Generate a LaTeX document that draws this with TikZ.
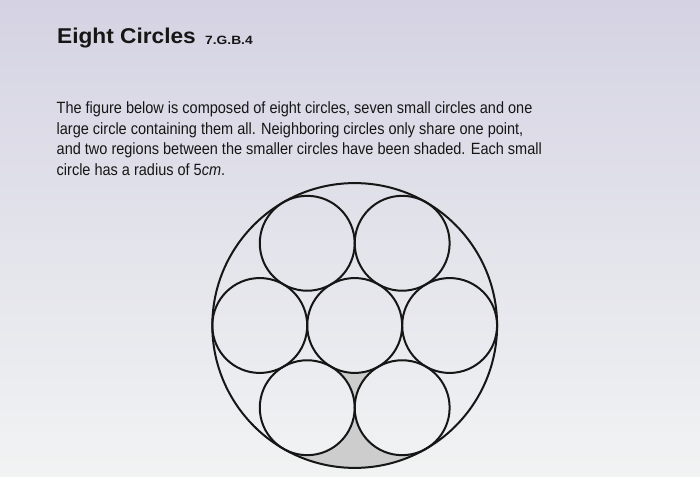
\documentclass[tikz,border=0pt]{standalone}
\usepackage{fontspec}
\usetikzlibrary{calc}
\setmainfont{Liberation Sans}
\newfontfamily\bodyfont[FakeStretch=0.89]{Liberation Sans}
\newfontfamily\titlefont[FakeStretch=1.06]{Liberation Sans}
\newfontfamily\codefont[FakeStretch=1.15]{Liberation Sans}
\definecolor{bgtop}{RGB}{213,211,227}
\definecolor{bgbot}{RGB}{241,243,243}
\definecolor{ink}{RGB}{22,22,22}
\definecolor{shadecol}{RGB}{205,205,205}
\begin{document}
\begin{tikzpicture}[x=1pt,y=1pt,
  smallc/.style={circle,draw=ink,line width=2pt,minimum size=94.9pt,inner sep=0pt},
  bigc/.style={circle,draw=ink,line width=2pt,minimum size=284.8pt,inner sep=0pt},
  textline/.style={anchor=base west,inner sep=0pt,text=ink,font=\bodyfont\fontsize{16.3}{20}\selectfont},
  shadedregion/.style={fill=shadecol,draw=none}]
\useasboundingbox (0,0) rectangle (700,476);
\shade[top color=bgtop,bottom color=bgbot] (0,0) rectangle (700,476);
\def\r{47.47}
\coordinate (O) at (354.7,150.5);
% shaded regions
\path[shadedregion] (O) ++(240:\r)
  arc[start angle=240,end angle=300,radius=\r]
  arc[start angle=120,end angle=180,radius=\r]
  arc[start angle=0,end angle=60,radius=\r] -- cycle;
\path[shadedregion] (O) ++(270:{1.7320508*\r})
  arc[start angle=180,end angle=300,radius=\r]
  arc[start angle=300,end angle=240,radius={3*\r}]
  arc[start angle=240,end angle=360,radius=\r] -- cycle;
% circles
\node[bigc] (big) at (O) {};
\node[smallc] (c0) at (O) {};
\foreach \k in {0,1,2,3,4,5}{
  \node[smallc] (c\the\numexpr\k+1\relax) at ($(O)+(\k*60:2*\r)$) {};
}
% texts
\node[anchor=base west,inner sep=0pt,text=ink,font=\titlefont\bfseries\fontsize{21.4}{25}\selectfont] (title) at (57,432.7) {Eight Circles};
\node[anchor=base west,inner sep=0pt,text=ink,font=\codefont\bfseries\fontsize{12}{14}\selectfont] (std) at (205,431) {7.G.B.4};
\node[textline] (l1) at (56.5,362.7) {The figure below is composed of eight circles, seven small circles and one};
\node[textline] (l2) at (56.5,341.7) {large circle containing them all. Neighboring circles only share one point,};
\node[textline] (l3) at (56.5,321) {and two regions between the smaller circles have been shaded. Each small};
\node[textline] (l4) at (56.5,300.5) {circle has a radius of 5\textit{cm}.};
\end{tikzpicture}
\end{document}
